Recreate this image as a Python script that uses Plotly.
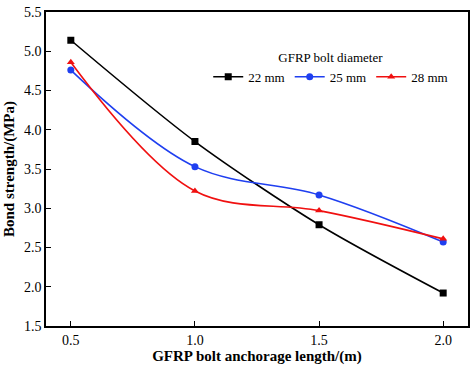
import plotly.graph_objects as go

x_len = [0.5, 1.0, 1.5, 2.0]
s22 = [5.14, 3.85, 2.79, 1.92]
s25 = [4.76, 3.53, 3.17, 2.57]
s28 = [4.86, 3.22, 2.97, 2.61]
names = ["22 mm", "25 mm", "28 mm"]
colors = ["#000000", "#1f3ff0", "#f01010"]
symbols = ["square", "circle", "triangle-up"]
series = [s22, s25, s28]

fig = go.Figure()
for n, c, sym, y in zip(names, colors, symbols, series):
    fig.add_trace(go.Scatter(
        x=x_len, y=y, name=n, mode="lines+markers",
        line=dict(color=c, width=1.6, shape="spline", smoothing=0.8 if n == "22 mm" else 1.0),
        marker=dict(symbol=sym, size=7, color=c),
    ))

font = "Liberation Serif, Times New Roman, serif"
fig.update_layout(
    width=474, height=368,
    margin=dict(l=46, r=4, t=12, b=42),
    paper_bgcolor="white", plot_bgcolor="white",
    font=dict(family=font, size=14, color="black"),
    showlegend=True,
    legend=dict(
        orientation="h", x=0.965, xanchor="right", y=0.895, yanchor="top",
        title=dict(text="GFRP bolt diameter", side="top center", font=dict(size=13)),
        font=dict(size=13), bgcolor="rgba(0,0,0,0)",
        tracegroupgap=0,
    ),
    xaxis=dict(
        range=[0.4, 2.1], tickvals=[0.5, 1.0, 1.5, 2.0], ticktext=["0.5", "1.0", "1.5", "2.0"],
        ticks="inside", ticklen=5, tickwidth=1, tickcolor="black",
        showline=True, linecolor="black", linewidth=1.5, mirror=True,
        showgrid=False, zeroline=False,
        title=dict(text="<b>GFRP bolt anchorage length/(m)</b>", font=dict(size=15), standoff=4),
    ),
    yaxis=dict(
        range=[1.5, 5.5], tickvals=[1.5, 2.0, 2.5, 3.0, 3.5, 4.0, 4.5, 5.0, 5.5],
        ticktext=["1.5", "2.0", "2.5", "3.0", "3.5", "4.0", "4.5", "5.0", "5.5"],
        ticks="inside", ticklen=5, tickwidth=1, tickcolor="black",
        showline=True, linecolor="black", linewidth=1.5, mirror=True,
        showgrid=False, zeroline=False,
        title=dict(text="<b>Bond strength/(MPa)</b>", font=dict(size=15), standoff=6),
    ),
)
fig.write_html("out.html", config={"displayModeBar": False},
               post_script="document.body.style.margin='0';document.body.style.overflow='hidden';")
